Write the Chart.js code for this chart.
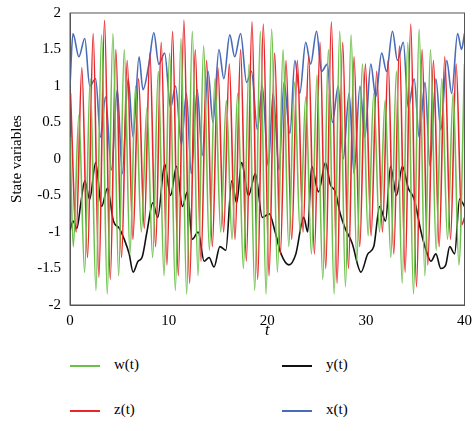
<!DOCTYPE html>
<html>
<head>
<meta charset="utf-8">
<script src="https://cdn.jsdelivr.net/npm/chart.js@4"></script>
<style>
  body { margin: 0; background: #fff; font-family: "Liberation Serif", serif; }
  #wrap { position: relative; width: 474px; height: 340px; }
  #legend { position: relative; width: 474px; height: 91px; font-size: 15px; }
  .item { position: absolute; height: 20px; }
  .item .line { position: absolute; left: 0; top: 9px; width: 30px; height: 2px; }
  .item .txt { position: absolute; left: 44px; top: 0; white-space: nowrap; }
</style>
</head>
<body>
<div id="wrap"><canvas id="myChart"></canvas></div>
<div id="legend"></div>
<script>
const xTicks = [0, 10, 20, 30, 40];
const yTicks = [-2, -1.5, -1, -0.5, 0, 0.5, 1, 1.5, 2];

// z(t) red: peaks and troughs
const redPeakT = [0.05,1.2,2.35,3.5,4.65,5.8,6.95,8.1,9.25,10.4,11.55,12.7,13.85,15.0,16.15,17.3,18.45,19.6,20.75,21.9,23.05,24.2,25.35,26.5,27.65,28.8,29.95,31.1,32.25,33.4,34.55,35.7,36.85,38.0,39.15];
const redPeakY = [0.9,1.25,1.72,1.9,1.5,1.35,1.1,1.45,1.6,1.75,1.9,1.5,1.35,1.25,1.3,1.5,1.88,1.85,1.45,1.35,1.35,1.4,1.6,1.88,1.6,1.4,1.3,1.2,1.35,1.55,1.85,1.5,1.35,1.4,1.3];
const redLowT = [0.63,1.78,2.93,4.08,5.23,6.38,7.53,8.68,9.83,10.98,12.13,13.28,14.43,15.58,16.73,17.88,19.03,20.18,21.33,22.48,23.63,24.78,25.93,27.08,28.23,29.38,30.53,31.68,32.83,33.98,35.13,36.28,37.43,38.58,39.73];
const redLowY = [-1.0,-1.35,-1.62,-1.65,-1.35,-1.1,-0.95,-1.2,-1.45,-1.6,-1.7,-1.4,-1.2,-1.0,-1.1,-1.4,-1.65,-1.6,-1.3,-1.1,-1.0,-1.3,-1.5,-1.7,-1.5,-1.2,-1.05,-1.0,-1.3,-1.55,-1.75,-1.45,-1.2,-1.1,-0.9];

// w(t) green
const greenPeakT = [0.9,2.05,3.2,4.35,5.5,6.65,7.8,8.95,10.1,11.25,12.4,13.55,14.7,15.85,17.0,18.15,19.3,20.45,21.6,22.75,23.9,25.05,26.2,27.35,28.5,29.65,30.8,31.95,33.1,34.25,35.4,36.55,37.7,38.85,40.0];
const greenPeakY = [0.6,1.1,1.7,1.72,1.5,1.0,0.7,1.2,1.45,1.65,1.75,1.55,1.1,0.8,0.9,1.3,1.75,1.78,1.5,1.05,0.85,1.15,1.5,1.75,1.7,1.3,0.9,0.8,1.2,1.6,1.78,1.5,1.1,0.9,1.3];
const greenLowT = [0.33,1.48,2.63,3.78,4.93,6.08,7.23,8.38,9.53,10.68,11.83,12.98,14.13,15.28,16.43,17.58,18.73,19.88,21.03,22.18,23.33,24.48,25.63,26.78,27.93,29.08,30.23,31.38,32.53,33.68,34.83,35.98,37.13,38.28,39.43];
const greenLowY = [-1.2,-1.55,-1.8,-1.85,-1.6,-1.3,-1.0,-1.35,-1.6,-1.8,-1.85,-1.6,-1.25,-1.0,-1.1,-1.5,-1.8,-1.85,-1.55,-1.2,-1.0,-1.3,-1.65,-1.85,-1.75,-1.4,-1.05,-1.0,-1.35,-1.7,-1.85,-1.6,-1.25,-1.1,-1.45];

// x(t) blue
const blueT = [0,0.3,0.9,1.5,2.0,2.6,3.1,3.6,4.2,4.8,5.3,5.9,6.4,7.0,7.4,8.0,8.5,9.0,9.6,10.2,10.7,11.3,11.8,12.3,12.9,13.4,14.0,14.5,15.1,15.6,16.2,16.7,17.3,17.9,18.4,19.0,19.5,20.1,20.6,21.2,21.7,22.3,22.8,23.3,23.9,24.4,25.0,25.5,26.1,26.6,27.2,27.7,28.3,28.8,29.4,29.9,30.5,31.0,31.6,32.1,32.7,33.2,33.8,34.3,34.9,35.4,36.0,36.5,37.1,37.6,38.2,38.7,39.3,39.7,40];
const blueY = [1.0,1.72,1.4,1.65,1.0,1.1,0.3,0.85,-0.15,0.95,-0.2,1.1,0.3,1.4,0.95,1.3,1.73,1.3,1.45,0.7,1.0,0.2,0.9,-0.2,0.95,0.05,1.2,0.5,1.5,1.1,1.7,1.4,1.72,1.05,1.2,0.4,1.0,-0.1,0.9,-0.15,1.05,0.35,1.35,0.9,1.6,1.3,1.75,1.2,1.3,0.5,1.0,0.0,0.9,-0.2,1.0,0.3,1.3,0.85,1.45,1.2,1.75,1.35,1.6,0.7,1.1,0.3,1.05,-0.1,1.1,0.4,1.35,0.9,1.72,1.5,1.72];

// y(t) black
const blackT = [0,0.3,0.7,1.1,1.5,2.0,2.6,3.2,3.8,4.4,5.0,5.5,6.0,6.4,6.9,7.3,7.8,8.4,8.9,9.6,10.2,10.8,11.4,11.9,12.4,13.0,13.6,14.1,14.6,15.2,15.8,16.4,16.9,17.4,18.1,18.8,19.5,20.2,20.8,21.4,22.2,22.9,23.7,24.1,24.5,25.2,25.9,26.4,26.9,27.4,27.9,28.6,29.5,30.2,30.8,31.4,32.0,32.5,33.1,33.7,34.3,34.9,35.6,36.1,36.6,37.1,37.6,38.1,38.5,39.0,39.5,40];
const blackY = [-0.98,-0.85,-0.95,-0.6,-0.3,-0.55,-0.05,-0.65,-0.4,-0.85,-0.95,-1.1,-1.3,-1.55,-1.4,-1.35,-1.0,-0.6,-0.8,-0.07,-0.5,-0.1,-0.65,-0.45,-1.1,-1.0,-1.4,-1.35,-1.48,-1.2,-1.25,-0.3,-0.6,-0.05,-0.5,-0.2,-0.8,-0.75,-1.0,-1.3,-1.45,-1.3,-0.8,-1.0,-0.1,-0.45,-0.05,-0.35,-0.45,-0.75,-0.95,-1.15,-1.55,-1.3,-1.2,-0.65,-0.85,-0.1,-0.5,-0.1,-0.4,-0.55,-1.0,-1.25,-1.4,-1.3,-1.5,-1.45,-1.2,-1.3,-0.55,-0.65];

function merge(t1, y1, t2, y2, start) {
  const pts = [];
  if (start) pts.push(start);
  t1.forEach((t, i) => pts.push({x: t, y: y1[i]}));
  t2.forEach((t, i) => pts.push({x: t, y: y2[i]}));
  return pts.filter(p => p.x <= 40).sort((a, b) => a.x - b.x);
}
function pairs(ts, ys) { return ts.map((t, i) => ({x: t, y: ys[i]})); }

const greenData = merge(greenPeakT, greenPeakY, greenLowT, greenLowY, {x: 0, y: 0.3});
const redData = merge(redPeakT, redPeakY, redLowT, redLowY, null);
redData.push({x: 40, y: -0.8});

const seriesList = [
  {label: 'w(t)', data: greenData, color: '#6cc04a'},
  {label: 'z(t)', data: redData, color: '#e8262a'},
  {label: 'x(t)', data: pairs(blueT, blueY), color: '#4a6cb8'},
  {label: 'y(t)', data: pairs(blackT, blackY), color: '#111111'}
];

const frame = {
  id: 'frame',
  afterDraw(chart) {
    const {ctx, chartArea: a} = chart;
    ctx.save();
    ctx.strokeStyle = '#555';
    ctx.lineWidth = 1;
    ctx.strokeRect(a.left, a.top, a.right - a.left, a.bottom - a.top);
    ctx.restore();
  }
};

const font = {family: '"Liberation Serif", serif', size: 15};
new Chart(document.getElementById('myChart'), {
  type: 'line',
  data: {
    datasets: seriesList.map(s => ({
      label: s.label, data: s.data, borderColor: s.color, borderWidth: 1.6,
      pointRadius: 0, fill: false, cubicInterpolationMode: 'monotone'
    }))
  },
  options: {
    responsive: true, maintainAspectRatio: false, animation: false,
    layout: {padding: {left: 8, right: 7, top: 11, bottom: 0}},
    plugins: {legend: {display: false}, tooltip: {enabled: false}},
    scales: {
      x: {
        type: 'linear', min: 0, max: 40,
        afterBuildTicks: s => { s.ticks = xTicks.map(v => ({value: v})); },
        afterFit: s => { s.height = 35; },
        grid: {display: false, drawTicks: true, tickLength: 5, color: '#555'},
        border: {color: '#555'},
        ticks: {color: '#000', font: font, padding: 2, callback: v => String(v)},
        title: {display: true, text: 't', color: '#000', padding: 0, font: {family: '"Liberation Serif", serif', size: 16, style: 'italic'}}
      },
      y: {
        min: -2, max: 2,
        afterBuildTicks: s => { s.ticks = yTicks.map(v => ({value: v})); },
        afterFit: s => { s.width = 62; },
        grid: {display: false, drawTicks: true, tickLength: 5, color: '#555'},
        border: {color: '#555'},
        ticks: {color: '#000', font: font, padding: 4, callback: v => String(v)},
        title: {display: true, text: 'State variables', color: '#000', padding: 0, font: font}
      }
    }
  },
  plugins: [frame]
});

// legend, two columns
const legendItems = [
  {label: 'w(t)', color: '#6cc04a', left: 70, top: 16},
  {label: 'y(t)', color: '#111111', left: 282, top: 16},
  {label: 'z(t)', color: '#e8262a', left: 70, top: 61},
  {label: 'x(t)', color: '#4a6cb8', left: 282, top: 61}
];
const legend = document.getElementById('legend');
legendItems.forEach(it => {
  const div = document.createElement('div');
  div.className = 'item';
  div.style.left = it.left + 'px';
  div.style.top = it.top + 'px';
  div.innerHTML = `<div class="line" style="background-color:${it.color}"></div><div class="txt">${it.label}</div>`;
  legend.appendChild(div);
});
</script>
</body>
</html>
